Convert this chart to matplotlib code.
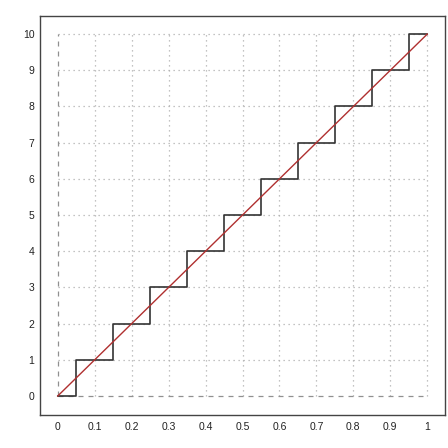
import matplotlib
matplotlib.use("Agg")
import matplotlib.pyplot as plt

plt.rcParams['font.family'] = ['Liberation Sans', 'DejaVu Sans']

# Data
step_x = [0, 0.05, 0.15, 0.25, 0.35, 0.45, 0.55, 0.65, 0.75, 0.85, 0.95, 1.0]
step_y = [0, 1, 2, 3, 4, 5, 6, 7, 8, 9, 10, 10]
line_x = [0, 1]
line_y = [0, 10]
x_ticks = [0, 0.1, 0.2, 0.3, 0.4, 0.5, 0.6, 0.7, 0.8, 0.9, 1]
x_labels = ["0", "0.1", "0.2", "0.3", "0.4", "0.5", "0.6", "0.7", "0.8", "0.9", "1"]
y_ticks = [0, 1, 2, 3, 4, 5, 6, 7, 8, 9, 10]
y_labels = [str(v) for v in y_ticks]

fig = plt.figure(figsize=(4.48, 4.48), dpi=100)
ax = fig.add_axes([40/448, 33/448, 405/448, 399/448])

xmin, xmax = x_ticks[0], x_ticks[-1]
ymin, ymax = y_ticks[0], y_ticks[-1]

# grid (dotted), only within data range
grid_kw = dict(color="#b0b0b0", linestyle=(0, (1, 3)), linewidth=0.9, zorder=1)
for xv in x_ticks[1:]:
    ax.plot([xv, xv], [ymin, ymax], **grid_kw)
for yv in y_ticks[1:]:
    ax.plot([xmin, xmax], [yv, yv], **grid_kw)
# axis lines (dashed)
dash_kw = dict(color="#909090", linestyle=(0, (4, 4)), linewidth=0.9, zorder=1)
ax.plot([xmin, xmin], [ymin, ymax], **dash_kw)
ax.plot([xmin, xmax], [ymin, ymin], **dash_kw)

ax.plot(step_x, step_y, drawstyle="steps-post", color="#333333", linewidth=1.2, zorder=3)
ax.plot(line_x, line_y, color="#b03030", linewidth=1.0, zorder=4)

ax.set_xlim(-0.048, 1.048)
ax.set_ylim(-0.525, 10.5)
ax.set_xticks(x_ticks)
ax.set_xticklabels(x_labels)
ax.set_yticks(y_ticks)
ax.set_yticklabels(y_labels)
ax.tick_params(axis="both", length=0, labelsize=7.5, colors="#222222")
ax.tick_params(axis="y", pad=4)
ax.tick_params(axis="x", pad=5)
for s in ax.spines.values():
    s.set_color("#444444")
    s.set_linewidth(1.0)

fig.savefig("out.png", dpi=100)
